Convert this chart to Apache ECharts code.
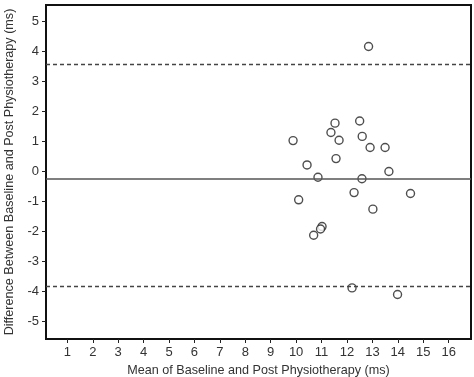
<!DOCTYPE html>
<html lang="en">
<head>
    <meta charset="UTF-8">
    <title>Bland-Altman</title>
    <script type="text/javascript" src="https://cdn.jsdelivr.net/npm/echarts@6/dist/echarts.min.js"></script>
    <style>
        body { margin: 0; background: #fff; }
    </style>
</head>
<body>
    <div id="main" style="width: 474px;height:377px;"></div>
    <script type="text/javascript">
    // mean of the two measurements (x) and their difference (y)
    var meanValues = [12.85, 12.50, 11.53, 11.37, 12.60, 9.88, 11.69, 12.91, 13.50, 11.57, 10.43, 13.65,
        10.86, 12.59, 12.28, 14.50, 10.10, 13.02, 11.02, 10.96, 10.69, 12.20, 13.99];
    var diffValues = [4.15, 1.67, 1.60, 1.29, 1.16, 1.02, 1.03, 0.79, 0.79, 0.42, 0.21, -0.01,
        -0.20, -0.25, -0.71, -0.74, -0.95, -1.26, -1.84, -1.92, -2.13, -3.88, -4.10];
    var biasLine = -0.25;
    var upperLimit = 3.55;
    var lowerLimit = -3.84;
    var xTicks = [1, 2, 3, 4, 5, 6, 7, 8, 9, 10, 11, 12, 13, 14, 15, 16];
    var yTicks = [-5, -4, -3, -2, -1, 0, 1, 2, 3, 4, 5];

    var points = meanValues.map(function (m, i) {
        return [m, diffValues[i]];
    });

    var myChart = echarts.init(document.getElementById('main'));
    var font = '"Liberation Sans", Arial, sans-serif';

    option = {
        animation: false,
        backgroundColor: '#fff',
        grid: {
            left: 46, right: 3, top: 5, bottom: 38,
            outerBoundsMode: 'none',
            containLabel: false,
            show: true,
            borderColor: '#111',
            borderWidth: 2
        },
        xAxis: {
            type: 'value',
            min: 0.16,
            max: 16.88,
            name: 'Mean of Baseline and Post Physiotherapy (ms)',
            nameLocation: 'middle',
            nameGap: 24,
            nameTextStyle: { color: '#333', fontSize: 12.6, fontFamily: font },
            axisLine: { show: false, onZero: false },
            splitLine: { show: false },
            axisTick: { show: true, length: 4, customValues: xTicks, lineStyle: { color: '#222' } },
            axisLabel: { customValues: xTicks, color: '#333', fontSize: 13, fontFamily: font, margin: 7 }
        },
        yAxis: {
            type: 'value',
            min: -5.58,
            max: 5.53,
            name: 'Difference Between Baseline and Post Physiotherapy (ms)',
            nameLocation: 'middle',
            nameGap: 30,
            nameTextStyle: { color: '#333', fontSize: 12.6, fontFamily: font },
            axisLine: { show: false, onZero: false },
            splitLine: { show: false },
            axisTick: { show: true, length: 4, customValues: yTicks, lineStyle: { color: '#222' } },
            axisLabel: { customValues: yTicks, color: '#333', fontSize: 13, fontFamily: font, margin: 7 }
        },
        series: [{
            type: 'scatter',
            data: points,
            symbol: 'circle',
            symbolSize: 8,
            itemStyle: { color: '#fff', borderColor: '#222', borderWidth: 1.4 },
            markLine: {
                silent: true,
                symbol: 'none',
                label: { show: false },
                data: [
                    { yAxis: biasLine, lineStyle: { type: 'solid', color: '#555', width: 1.5 } },
                    { yAxis: upperLimit, lineStyle: { type: [4, 3], color: '#444', width: 1.3 } },
                    { yAxis: lowerLimit, lineStyle: { type: [4, 3], color: '#444', width: 1.3 } }
                ]
            },
            z: 3
        }]
    };

    myChart.setOption(option);
    </script>
</body>
</html>
